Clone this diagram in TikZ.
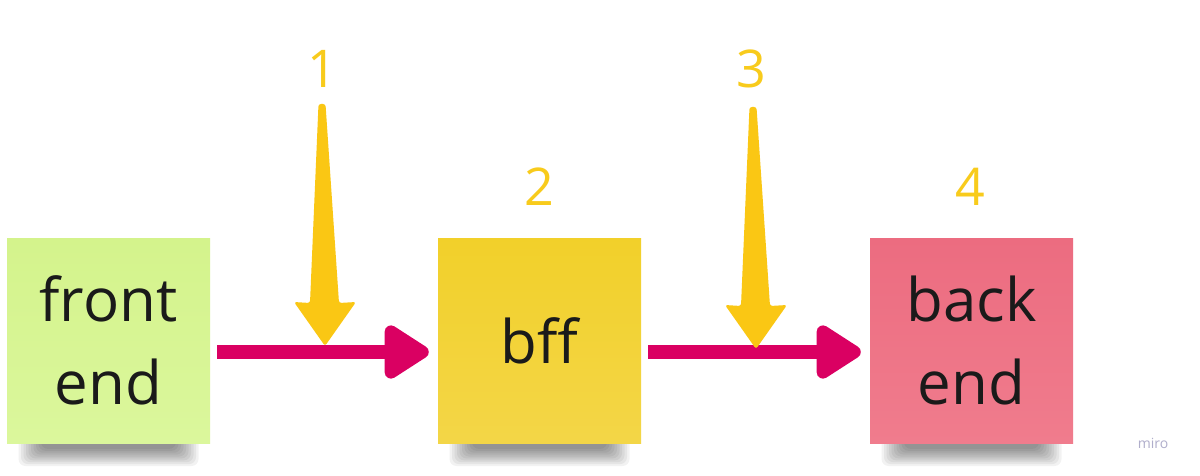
\documentclass[tikz,border=0pt]{standalone}
\usepackage{fontspec}
\setmainfont{Open Sans}
\usetikzlibrary{arrows.meta,calc}
\definecolor{greentop}{HTML}{D4F38C}
\definecolor{greenbot}{HTML}{DBF79C}
\definecolor{yellowtop}{HTML}{F2D02A}
\definecolor{yellowbot}{HTML}{F3D647}
\definecolor{pinktop}{HTML}{EC6C80}
\definecolor{pinkbot}{HTML}{F07C8D}
\definecolor{notetext}{HTML}{1A1A1A}
\definecolor{numyellow}{HTML}{F8CB1C}
\definecolor{arrowyellow}{HTML}{FAC714}
\definecolor{flowpink}{HTML}{DA0062}
\definecolor{mirogray}{HTML}{B0AECB}
\tikzset{
  note/.style={minimum width=203pt, minimum height=205pt, inner sep=0pt, align=center,
    font=\fontsize{60}{83}\selectfont, text=notetext},
  num/.style={text=numyellow, font=\fontsize{52}{52}\selectfont, inner sep=0pt},
  flow/.style={draw=flowpink, line width=14pt, -{Triangle[length=50pt,width=60pt,round]},
    shorten <=7pt, shorten >=9pt},
  yarrow/.style={fill=arrowyellow, rounded corners=2.5pt},
  shadowpart/.style={fill=black, opacity=0.05, rounded corners=7pt},
}
\begin{document}
\begin{tikzpicture}[x=1pt,y=-1pt]
\useasboundingbox (0,0) rectangle (1200,476);
\fill[white] (0,0) rectangle (1200,476);

% shadows
\foreach \cx in {108.5,539.5,971.5}{
  \foreach \i in {0,...,9}{
    \fill[shadowpart] (\cx-90+\i*2.5, 436) rectangle (\cx+90-\i*2.5, 446+20-\i*1.9);
  }
}

% notes
\node[note, top color=greentop, bottom color=greenbot] (front) at (108.5,340.5) {front\\end};
\node[note, top color=yellowtop, bottom color=yellowbot] (bff) at (539.5,340.5) {bff};
\node[note, top color=pinktop, bottom color=pinkbot] (back) at (971.5,340.5) {back\\end};

% numbers
\node[num] (n1) at (322,69) {1};
\node[num] (n2) at (539,187) {2};
\node[num] (n3) at (751,69) {3};
\node[num] (n4) at (970,187) {4};

% flow arrows
\draw[flow] ([yshift=-11.5pt]front.east) -- ([yshift=-11.5pt]bff.west);
\draw[flow] ([yshift=-11.5pt]bff.east) -- ([yshift=-11.5pt]back.west);

% tapered yellow arrows
\coordinate (t1) at (322,104);
\coordinate (t3) at (753,107);
\foreach \t in {t1,t3}{
  \fill[yarrow, shift={(\t)}] (-3.5,0) -- (3.5,0) -- (17,199) -- (34,198) -- (3,242)
    -- (-28,198) -- (-12,199) -- cycle;
}

\node[text=mirogray, font=\fontsize{14}{14}\selectfont, inner sep=0pt] (miro) at (1153,443) {miro};
\end{tikzpicture}
\end{document}
